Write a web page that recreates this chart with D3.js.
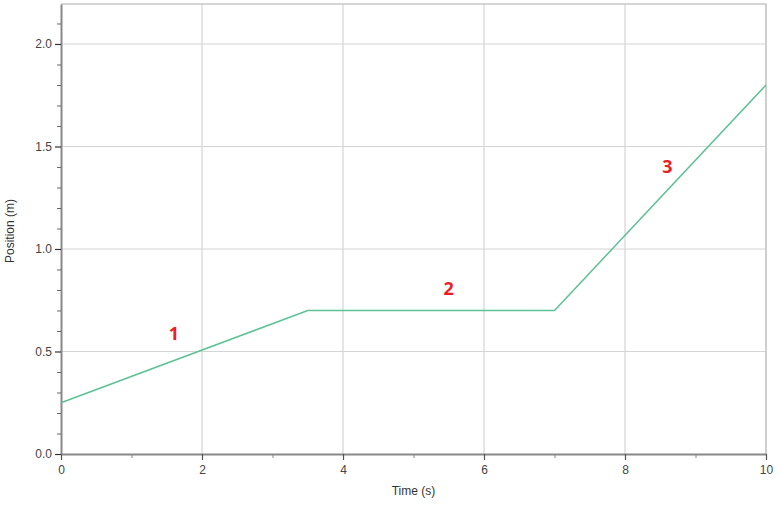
<!DOCTYPE html>
<html>
<head>
<meta charset="utf-8">
<script src="https://cdn.jsdelivr.net/npm/d3@7"></script>
<style>
  body { margin: 0; background: #fff; }
  svg text { font-family: "Liberation Sans", Arial, sans-serif; }
  .tickLabel { font-size: 12px; fill: #444; }
  .axisTitle { font-size: 12px; fill: #333; }
  .segLabel { font-size: 18px; font-weight: bold; fill: #ee1c25; font-family: "Open Sans", sans-serif; }
</style>
</head>
<body>
<svg id="positionViz" width="779" height="507"></svg>
<script>
// data
const timeValues = [0, 3.5, 7, 10];
const positionValues = [0.25, 0.7, 0.7, 1.8];
const xMajorTicks = [0, 2, 4, 6, 8, 10];
const xMinorTicks = [1, 3, 5, 7, 9];
const yMajorTicks = [0.0, 0.5, 1.0, 1.5, 2.0];
const yMinorTicks = [0.1, 0.2, 0.3, 0.4, 0.6, 0.7, 0.8, 0.9, 1.1, 1.2, 1.3, 1.4, 1.6, 1.7, 1.8, 1.9, 2.1];
const segmentNames = ["1", "2", "3"];
const segmentLabelAt = [[1.6, 0.555], [5.5, 0.775], [8.6, 1.37]];

const plotLeft = 61;
const plotRight = 766;
const plotTop = 4;
const plotBottom = 454;

let svg = d3.select("#positionViz");

const x = d3.scaleLinear().domain([0, 10]).range([plotLeft, plotRight]);
const y = d3.scaleLinear().domain([0, 2.195]).range([plotBottom, plotTop]);

// grid
svg
  .append("g")
  .selectAll("line")
  .data(xMajorTicks.slice(1))
  .join("line")
  .attr("x1", (d) => x(d))
  .attr("x2", (d) => x(d))
  .attr("y1", plotTop)
  .attr("y2", plotBottom)
  .attr("stroke", "#d4d4d4")
  .attr("stroke-width", 1.2);

svg
  .append("g")
  .selectAll("line")
  .data(yMajorTicks.slice(1))
  .join("line")
  .attr("x1", plotLeft)
  .attr("x2", plotRight)
  .attr("y1", (d) => y(d))
  .attr("y2", (d) => y(d))
  .attr("stroke", "#d4d4d4")
  .attr("stroke-width", 1.2);

// frame top and right
svg
  .append("path")
  .attr("d", `M${plotLeft},${plotTop}H${plotRight}V${plotBottom}`)
  .attr("fill", "none")
  .attr("stroke", "#c8c8c8")
  .attr("stroke-width", 1.5);

// x axis
let xAxis = svg
  .append("g")
  .attr("transform", `translate(0,${plotBottom})`)
  .call(d3.axisBottom(x).tickValues(xMajorTicks).tickFormat(d3.format("d")).tickSize(6).tickSizeOuter(0));
xAxis.select(".domain").attr("stroke", "#888").attr("stroke-width", 2);
xAxis.selectAll(".tick line").attr("stroke", "#555").attr("stroke-width", 1.2);
xAxis.selectAll(".tick text").attr("class", "tickLabel").attr("dy", "0.95em");

svg
  .append("g")
  .attr("transform", `translate(0,${plotBottom})`)
  .call(d3.axisBottom(x).tickValues(xMinorTicks).tickFormat("").tickSize(4).tickSizeOuter(0))
  .call((g) => g.select(".domain").remove())
  .selectAll(".tick line")
  .attr("stroke", "#888");

// y axis
let yAxis = svg
  .append("g")
  .attr("transform", `translate(${plotLeft},0)`)
  .call(d3.axisLeft(y).tickValues(yMajorTicks).tickFormat(d3.format(".1f")).tickSize(6).tickSizeOuter(0));
yAxis.select(".domain").attr("stroke", "#888").attr("stroke-width", 2);
yAxis.selectAll(".tick line").attr("stroke", "#333").attr("stroke-width", 1.2);
yAxis.selectAll(".tick text").attr("class", "tickLabel").attr("x", -9);

svg
  .append("g")
  .attr("transform", `translate(${plotLeft},0)`)
  .call(d3.axisLeft(y).tickValues(yMinorTicks).tickFormat("").tickSize(4).tickSizeOuter(0))
  .call((g) => g.select(".domain").remove())
  .selectAll(".tick line")
  .attr("stroke", "#666");

// position line
const line = d3
  .line()
  .x((d, i) => x(timeValues[i]))
  .y((d) => y(d));

svg
  .append("path")
  .datum(positionValues)
  .attr("d", line)
  .attr("fill", "none")
  .attr("stroke", "#5cc195")
  .attr("stroke-width", 1.5);

// segment numbers
svg
  .append("g")
  .selectAll("text")
  .data(segmentNames)
  .join("text")
  .attr("class", "segLabel")
  .attr("x", (d, i) => x(segmentLabelAt[i][0]))
  .attr("y", (d, i) => y(segmentLabelAt[i][1]))
  .attr("text-anchor", "middle")
  .text((d) => d);

// axis titles
svg
  .append("text")
  .attr("class", "axisTitle")
  .attr("x", x(5))
  .attr("y", 495)
  .attr("text-anchor", "middle")
  .text("Time (s)");

svg
  .append("text")
  .attr("class", "axisTitle")
  .attr("transform", `translate(14,231) rotate(-90)`)
  .attr("text-anchor", "middle")
  .text("Position (m)");
</script>
</body>
</html>
